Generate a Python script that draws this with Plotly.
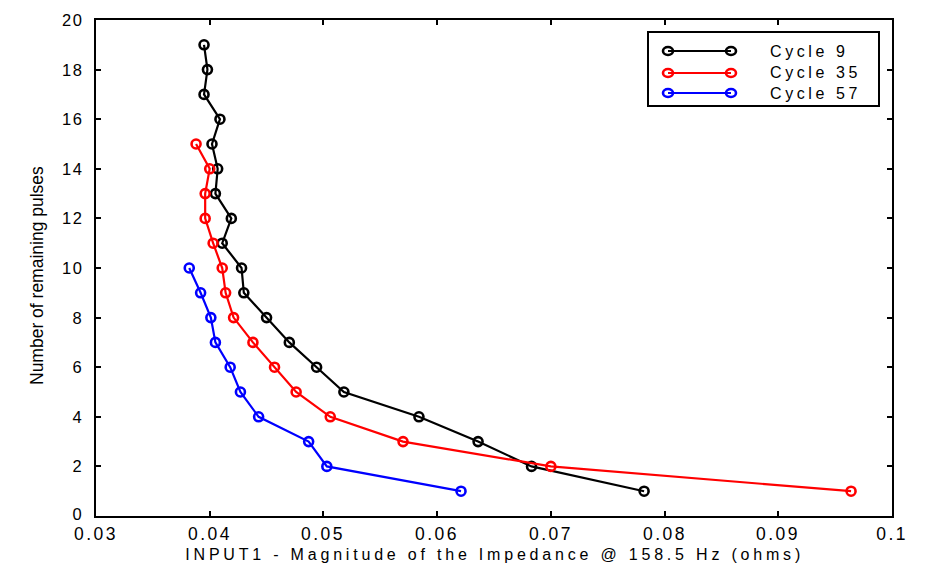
import plotly.graph_objects as go

pulses_c9 = [19, 18, 17, 16, 15, 14, 13, 12, 11, 10, 9, 8, 7, 6, 5, 4, 3, 2, 1]
imp_c9 = [0.0395, 0.0398, 0.0395, 0.0409, 0.0402, 0.0407, 0.0405, 0.0419, 0.0411,
          0.0428, 0.0430, 0.0450, 0.0470, 0.0494, 0.0518, 0.0584, 0.0636, 0.0683, 0.0782]

pulses_c35 = [15, 14, 13, 12, 11, 10, 9, 8, 7, 6, 5, 4, 3, 2, 1]
imp_c35 = [0.0388, 0.0400, 0.0396, 0.0396, 0.0403, 0.0411, 0.0414, 0.0421, 0.0438,
           0.0457, 0.0476, 0.0506, 0.0570, 0.0700, 0.0964]

pulses_c57 = [10, 9, 8, 7, 6, 5, 4, 3, 2, 1]
imp_c57 = [0.0382, 0.0392, 0.0401, 0.0405, 0.0418, 0.0427, 0.0443, 0.0487, 0.0503, 0.0621]

series_names = ["Cycle 9", "Cycle 35", "Cycle 57"]
colors = ["#000000", "#ff0000", "#0000ff"]

x_ticks = [0.03, 0.04, 0.05, 0.06, 0.07, 0.08, 0.09, 0.1]
x_tick_text = ["0.03", "0.04", "0.05", "0.06", "0.07", "0.08", "0.09", "0.1"]
y_ticks = [0, 2, 4, 6, 8, 10, 12, 14, 16, 18, 20]
y_tick_text = ["0", "2", "4", "6", "8", "10", "12", "14", "16", "18", "20"]

x_title = "INPUT1 - Magnitude of the Impedance @ 158.5 Hz (ohms)"
y_title = "Number of remaining pulses"

FONT = "Liberation Sans, Arial, sans-serif"

fig = go.Figure()
for xs, ys, name, col in zip([imp_c9, imp_c35, imp_c57],
                             [pulses_c9, pulses_c35, pulses_c57],
                             series_names, colors):
    fig.add_trace(go.Scatter(
        x=xs, y=ys, mode="lines+markers", name=name,
        line=dict(color=col, width=2.2),
        marker=dict(symbol="circle-open", size=9, color=col, line=dict(width=2.6, color=col)),
        showlegend=False,
    ))

W, H = 925, 571
ml, mr, mt, mb = 96, 33, 20, 55
pw, ph = W - ml - mr, H - mt - mb


def px2paper_x(px):
    return (px - ml) / pw


def px2paper_y(py):
    return 1 - (py - mt) / ph


# custom legend box (line with markers at both ends, as in reference)
lx0, lx1, ly0, ly1 = 648, 879, 32, 106
shapes = [dict(type="rect", xref="paper", yref="paper",
               x0=px2paper_x(lx0), x1=px2paper_x(lx1),
               y0=px2paper_y(ly1), y1=px2paper_y(ly0),
               line=dict(color="black", width=2), fillcolor="white", layer="above")]
annotations = []
rows_y = [51, 73, 93]
for i, (name, col) in enumerate(zip(series_names, colors)):
    yy = px2paper_y(rows_y[i])
    shapes.append(dict(type="line", xref="paper", yref="paper",
                       x0=px2paper_x(668), x1=px2paper_x(731), y0=yy, y1=yy,
                       line=dict(color=col, width=2.2), layer="above"))
    for cx in (668, 731):
        shapes.append(dict(type="circle", xref="paper", yref="paper",
                           xsizemode="pixel", ysizemode="pixel",
                           xanchor=px2paper_x(cx), yanchor=yy,
                           x0=-5, x1=5, y0=-4, y1=4,
                           line=dict(color=col, width=2.6), fillcolor="rgba(0,0,0,0)",
                           layer="above"))
    annotations.append(dict(xref="paper", yref="paper", x=px2paper_x(768), y=yy,
                            text=name, showarrow=False, xanchor="left", yanchor="middle",
                            align="left",
                            font=dict(family=FONT, size=16, color="black")))

# tick labels as text placed by the axes (spaced lettering like the reference)
for v, t in zip(x_ticks, x_tick_text):
    annotations.append(dict(xref="x", yref="paper", x=v, y=0, yshift=-18,
                            text=t, showarrow=False, xanchor="center", yanchor="middle",
                            borderpad=0,
                            font=dict(family=FONT, size=17.5, color="black")))
for v, t in zip(y_ticks, y_tick_text):
    annotations.append(dict(xref="paper", yref="y", x=0, y=v, xshift=-12,
                            yshift=2 if v == 0 else 0,
                            text=t, showarrow=False, xanchor="right", yanchor="middle",
                            align="right", borderpad=0,
                            font=dict(family=FONT, size=16.5, color="black")))
annotations.append(dict(xref="paper", yref="paper", x=0.5, y=0, yshift=-38,
                        text=x_title, showarrow=False, xanchor="center", yanchor="middle",
                        font=dict(family=FONT, size=16, color="black")))
annotations.append(dict(xref="paper", yref="paper", x=0, y=0.5, xshift=-59, yshift=-8,
                        text=y_title, showarrow=False, textangle=-90,
                        xanchor="center", yanchor="middle",
                        font=dict(family=FONT, size=17.5, color="black")))

fig.update_layout(
    width=W, height=H,
    margin=dict(l=ml, r=mr, t=mt, b=mb),
    paper_bgcolor="white", plot_bgcolor="white",
    font=dict(family=FONT, color="black"),
    shapes=shapes, annotations=annotations,
    xaxis=dict(range=[0.03, 0.1], tickvals=x_ticks, showticklabels=False,
               ticks="inside", ticklen=5, tickwidth=2, tickcolor="black",
               showline=True, linewidth=2, linecolor="black", mirror="allticks",
               showgrid=False, zeroline=False),
    yaxis=dict(range=[0, 20], tickvals=y_ticks, showticklabels=False,
               ticks="inside", ticklen=5, tickwidth=2, tickcolor="black",
               showline=True, linewidth=2, linecolor="black", mirror="allticks",
               showgrid=False, zeroline=False),
)

# widen letter spacing of the texts, as in the reference rendering
post = """
var ann = document.querySelectorAll('.annotation-text');
ann.forEach(function(e){
  var t = e.textContent;
  var v = '2.5px';
  if (t.indexOf('INPUT1') === 0) v = '3.8px';
  else if (t.indexOf('Cycle') === 0) v = '3.6px';
  else if (t.indexOf('Number') === 0) v = '0px';
  else if (t.indexOf('.') < 0) v = '1.5px';
  e.style.letterSpacing = v;
});
"""

fig.write_html("out.html", post_script=post)
